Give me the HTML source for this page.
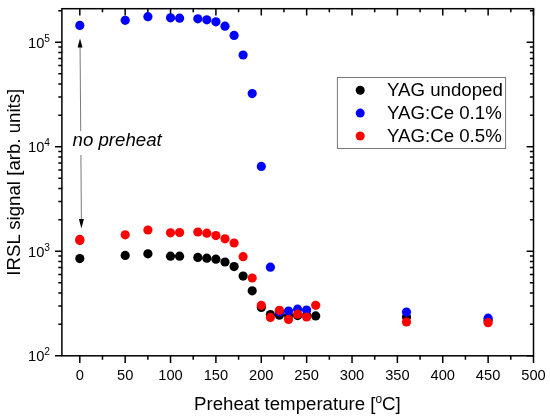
<!DOCTYPE html><html><head><meta charset="utf-8"><title>IRSL signal vs preheat temperature</title>
<style>html,body{margin:0;padding:0;background:#fff}svg{display:block}text{font-family:"Liberation Sans",Arial,sans-serif;fill:#000}</style></head><body>
<svg xmlns="http://www.w3.org/2000/svg" width="550" height="420" viewBox="0 0 550 420">
<rect width="550" height="420" fill="#fff"/>
<path d="M79.80 355.8v7.1000000000000005M79.80 8.7v6.7M102.48 355.8v3.9M102.48 8.7v3.5M125.17 355.8v7.1000000000000005M125.17 8.7v6.7M147.85 355.8v3.9M147.85 8.7v3.5M170.54 355.8v7.1000000000000005M170.54 8.7v6.7M193.22 355.8v3.9M193.22 8.7v3.5M215.91 355.8v7.1000000000000005M215.91 8.7v6.7M238.59 355.8v3.9M238.59 8.7v3.5M261.28 355.8v7.1000000000000005M261.28 8.7v6.7M283.96 355.8v3.9M283.96 8.7v3.5M306.65 355.8v7.1000000000000005M306.65 8.7v6.7M329.33 355.8v3.9M329.33 8.7v3.5M352.02 355.8v7.1000000000000005M352.02 8.7v6.7M374.70 355.8v3.9M374.70 8.7v3.5M397.39 355.8v7.1000000000000005M397.39 8.7v6.7M420.07 355.8v3.9M420.07 8.7v3.5M442.76 355.8v7.1000000000000005M442.76 8.7v6.7M465.44 355.8v3.9M465.44 8.7v3.5M488.13 355.8v7.1000000000000005M488.13 8.7v6.7M510.81 355.8v3.9M510.81 8.7v3.5M533.50 355.8v7.1000000000000005M533.50 8.7v6.7M61.9 355.80h-6.9M533.5 355.80h-6.9M61.9 324.34h-3.6M533.5 324.34h-3.6M61.9 305.94h-3.6M533.5 305.94h-3.6M61.9 292.88h-3.6M533.5 292.88h-3.6M61.9 282.76h-3.6M533.5 282.76h-3.6M61.9 274.48h-3.6M533.5 274.48h-3.6M61.9 267.49h-3.6M533.5 267.49h-3.6M61.9 261.43h-3.6M533.5 261.43h-3.6M61.9 256.08h-3.6M533.5 256.08h-3.6M61.9 251.30h-6.9M533.5 251.30h-6.9M61.9 219.84h-3.6M533.5 219.84h-3.6M61.9 201.44h-3.6M533.5 201.44h-3.6M61.9 188.38h-3.6M533.5 188.38h-3.6M61.9 178.26h-3.6M533.5 178.26h-3.6M61.9 169.98h-3.6M533.5 169.98h-3.6M61.9 162.99h-3.6M533.5 162.99h-3.6M61.9 156.93h-3.6M533.5 156.93h-3.6M61.9 151.58h-3.6M533.5 151.58h-3.6M61.9 146.80h-6.9M533.5 146.80h-6.9M61.9 115.34h-3.6M533.5 115.34h-3.6M61.9 96.94h-3.6M533.5 96.94h-3.6M61.9 83.88h-3.6M533.5 83.88h-3.6M61.9 73.76h-3.6M533.5 73.76h-3.6M61.9 65.48h-3.6M533.5 65.48h-3.6M61.9 58.49h-3.6M533.5 58.49h-3.6M61.9 52.43h-3.6M533.5 52.43h-3.6M61.9 47.08h-3.6M533.5 47.08h-3.6M61.9 42.30h-6.9M533.5 42.30h-6.9M61.9 10.84h-3.6M533.5 10.84h-3.6" stroke="#000" stroke-width="1.5" fill="none"/>
<rect x="61.9" y="8.7" width="471.6" height="347.1" fill="none" stroke="#000" stroke-width="1.5"/>
<line x1="80.05" y1="46" x2="81.4" y2="220" stroke="#7a7a7a" stroke-width="1"/>
<path d="M80 38.4L82.5 47.5H77.6Z" fill="#000"/>
<path d="M81.4 228.5L78.9 219.1H83.9Z" fill="#000"/>
<rect x="70" y="131" width="94" height="24" fill="#fff"/>
<text x="72.5" y="145.6" font-size="18.67" font-style="italic">no preheat</text>
<circle cx="79.8" cy="258.6" r="4.6" fill="#000"/>
<circle cx="125.2" cy="255.4" r="4.6" fill="#000"/>
<circle cx="147.9" cy="253.8" r="4.6" fill="#000"/>
<circle cx="170.5" cy="256.2" r="4.6" fill="#000"/>
<circle cx="179.6" cy="256.2" r="4.6" fill="#000"/>
<circle cx="197.8" cy="257.4" r="4.6" fill="#000"/>
<circle cx="206.8" cy="258.2" r="4.6" fill="#000"/>
<circle cx="215.9" cy="259.2" r="4.6" fill="#000"/>
<circle cx="225.0" cy="262" r="4.6" fill="#000"/>
<circle cx="234.1" cy="266.6" r="4.6" fill="#000"/>
<circle cx="243.1" cy="276.1" r="4.6" fill="#000"/>
<circle cx="252.2" cy="290.8" r="4.6" fill="#000"/>
<circle cx="261.3" cy="307.4" r="4.6" fill="#000"/>
<circle cx="270.4" cy="314.5" r="4.6" fill="#000"/>
<circle cx="279.4" cy="315.2" r="4.6" fill="#000"/>
<circle cx="288.5" cy="315.5" r="4.6" fill="#000"/>
<circle cx="297.6" cy="315.6" r="4.6" fill="#000"/>
<circle cx="306.6" cy="315.2" r="4.6" fill="#000"/>
<circle cx="315.7" cy="315.9" r="4.6" fill="#000"/>
<circle cx="406.5" cy="317" r="4.6" fill="#000"/>
<circle cx="488.1" cy="320.5" r="4.6" fill="#000"/>
<circle cx="79.8" cy="25.4" r="4.6" fill="#0000ff"/>
<circle cx="125.2" cy="20.3" r="4.6" fill="#0000ff"/>
<circle cx="147.9" cy="16.7" r="4.6" fill="#0000ff"/>
<circle cx="170.5" cy="17.8" r="4.6" fill="#0000ff"/>
<circle cx="179.6" cy="18.2" r="4.6" fill="#0000ff"/>
<circle cx="197.8" cy="18.8" r="4.6" fill="#0000ff"/>
<circle cx="206.8" cy="19.8" r="4.6" fill="#0000ff"/>
<circle cx="215.9" cy="21.8" r="4.6" fill="#0000ff"/>
<circle cx="225.0" cy="26.2" r="4.6" fill="#0000ff"/>
<circle cx="234.1" cy="35.4" r="4.6" fill="#0000ff"/>
<circle cx="243.1" cy="55" r="4.6" fill="#0000ff"/>
<circle cx="252.2" cy="93.6" r="4.6" fill="#0000ff"/>
<circle cx="261.3" cy="166.4" r="4.6" fill="#0000ff"/>
<circle cx="270.4" cy="267.2" r="4.6" fill="#0000ff"/>
<circle cx="279.4" cy="312" r="4.6" fill="#0000ff"/>
<circle cx="288.5" cy="311.1" r="4.6" fill="#0000ff"/>
<circle cx="297.6" cy="309.2" r="4.6" fill="#0000ff"/>
<circle cx="306.6" cy="310" r="4.6" fill="#0000ff"/>
<circle cx="406.5" cy="312.1" r="4.6" fill="#0000ff"/>
<circle cx="488.1" cy="318.2" r="4.6" fill="#0000ff"/>
<circle cx="79.8" cy="239.4" r="4.6" fill="#ff0000"/>
<circle cx="125.2" cy="234.8" r="4.6" fill="#ff0000"/>
<circle cx="147.9" cy="230" r="4.6" fill="#ff0000"/>
<circle cx="170.5" cy="232.8" r="4.6" fill="#ff0000"/>
<circle cx="179.6" cy="232.6" r="4.6" fill="#ff0000"/>
<circle cx="197.8" cy="232" r="4.6" fill="#ff0000"/>
<circle cx="206.8" cy="233.2" r="4.6" fill="#ff0000"/>
<circle cx="215.9" cy="235.6" r="4.6" fill="#ff0000"/>
<circle cx="225.0" cy="238.8" r="4.6" fill="#ff0000"/>
<circle cx="234.1" cy="243" r="4.6" fill="#ff0000"/>
<circle cx="243.1" cy="256.7" r="4.6" fill="#ff0000"/>
<circle cx="252.2" cy="278" r="4.6" fill="#ff0000"/>
<circle cx="261.3" cy="305.3" r="4.6" fill="#ff0000"/>
<circle cx="270.4" cy="317.4" r="4.6" fill="#ff0000"/>
<circle cx="279.4" cy="310.3" r="4.6" fill="#ff0000"/>
<circle cx="288.5" cy="319.4" r="4.6" fill="#ff0000"/>
<circle cx="297.6" cy="314.2" r="4.6" fill="#ff0000"/>
<circle cx="306.6" cy="317" r="4.6" fill="#ff0000"/>
<circle cx="315.7" cy="305.3" r="4.6" fill="#ff0000"/>
<circle cx="406.5" cy="322" r="4.6" fill="#ff0000"/>
<circle cx="488.1" cy="322.7" r="4.6" fill="#ff0000"/>
<circle cx="79.8" cy="240.4" r="4.6" fill="#ff0000"/>
<rect x="337.4" y="77.5" width="168.2" height="71" fill="#fff" stroke="#777" stroke-width="1"/>
<circle cx="360.2" cy="90.2" r="4.5" fill="#000"/>
<text x="387" y="96.1" font-size="18.67">YAG undoped</text>
<circle cx="360.2" cy="113.1" r="4.5" fill="#0000ff"/>
<text x="387" y="119.1" font-size="18.67">YAG:Ce 0.1%</text>
<circle cx="360.2" cy="136.0" r="4.5" fill="#ff0000"/>
<text x="387" y="142.2" font-size="18.67">YAG:Ce 0.5%</text>
<text x="79.8" y="379.6" font-size="14.67" text-anchor="middle">0</text>
<text x="125.2" y="379.6" font-size="14.67" text-anchor="middle">50</text>
<text x="170.5" y="379.6" font-size="14.67" text-anchor="middle">100</text>
<text x="215.9" y="379.6" font-size="14.67" text-anchor="middle">150</text>
<text x="261.3" y="379.6" font-size="14.67" text-anchor="middle">200</text>
<text x="306.6" y="379.6" font-size="14.67" text-anchor="middle">250</text>
<text x="352.0" y="379.6" font-size="14.67" text-anchor="middle">300</text>
<text x="397.4" y="379.6" font-size="14.67" text-anchor="middle">350</text>
<text x="442.8" y="379.6" font-size="14.67" text-anchor="middle">400</text>
<text x="488.1" y="379.6" font-size="14.67" text-anchor="middle">450</text>
<text x="533.5" y="379.6" font-size="14.67" text-anchor="middle">500</text>
<text x="28" y="361.1" font-size="14.67">10<tspan font-size="10.2" dy="-5.8">2</tspan></text>
<text x="28" y="256.6" font-size="14.67">10<tspan font-size="10.2" dy="-5.8">3</tspan></text>
<text x="28" y="152.1" font-size="14.67">10<tspan font-size="10.2" dy="-5.8">4</tspan></text>
<text x="28" y="47.6" font-size="14.67">10<tspan font-size="10.2" dy="-5.8">5</tspan></text>
<text x="194" y="410.3" font-size="18.67">Preheat temperature [<tspan font-size="11.9" dy="-7.3">o</tspan><tspan dy="7.3">C]</tspan></text>
<text transform="translate(19.7 275.7) rotate(-90)" font-size="18.67">IRSL signal [arb. units]</text>
</svg></body></html>
